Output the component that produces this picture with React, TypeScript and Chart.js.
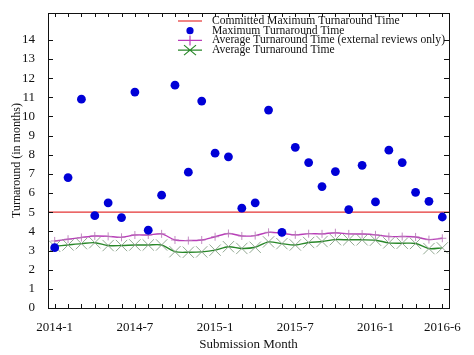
import React, { useEffect, useRef } from 'react';
import { Chart, registerables } from 'chart.js';

Chart.register(...registerables);

const months = [
  '2014-1', '2014-2', '2014-3', '2014-4', '2014-5', '2014-6', '2014-7', '2014-8', '2014-9', '2014-10', '2014-11', '2014-12',
  '2015-1', '2015-2', '2015-3', '2015-4', '2015-5', '2015-6', '2015-7', '2015-8', '2015-9', '2015-10', '2015-11', '2015-12',
  '2016-1', '2016-2', '2016-3', '2016-4', '2016-5', '2016-6',
];
const labeledMonths = ['2014-1', '2014-7', '2015-1', '2015-7', '2016-1', '2016-6'];
const committedMaximum = 5;
const maximumTurnaround = [
  3.15, 6.81, 10.9, 4.82, 5.49, 4.72, 11.27, 4.06, 5.89, 11.63, 7.09, 10.8, 8.08, 7.89, 5.21,
  5.49, 10.33, 3.95, 8.39, 7.59, 6.34, 7.12, 5.14, 7.45, 5.54, 8.24, 7.59, 6.04, 5.57, 4.75,
];
const avgExternal = [
  3.5, 3.59, 3.68, 3.76, 3.74, 3.69, 3.81, 3.81, 3.87, 3.55, 3.52, 3.55, 3.72, 3.89, 3.76,
  3.78, 3.95, 3.9, 3.82, 3.88, 3.87, 3.93, 3.87, 3.86, 3.82, 3.73, 3.73, 3.71, 3.57, 3.64,
];
const avgAll = [
  3.22, 3.29, 3.36, 3.41, 3.26, 3.26, 3.29, 3.29, 3.29, 2.94, 2.91, 2.93, 3.02, 3.2, 3.11,
  3.17, 3.45, 3.36, 3.29, 3.42, 3.47, 3.57, 3.56, 3.56, 3.54, 3.4, 3.38, 3.37, 3.1, 3.14,
];
const yTicks = [0, 1, 2, 3, 4, 5, 6, 7, 8, 9, 10, 11, 12, 13, 14];
const legendLabels = [
  'Committed Maximum Turnaround Time',
  'Maximum Turnaround Time',
  'Average Turnaround Time (external reviews only)',
  'Average Turnaround Time',
];

const X_MIN = -0.5;
const X_MAX = 29.5;
const Y_MAX = 15.4;
const SERIF = '"Liberation Serif", "Times New Roman", serif';
const RED = 'rgb(228,52,52)';
const BLUE = 'rgb(0,0,215)';
const MAGENTA = 'rgb(185,60,185)';
const MAGENTA_PT = 'rgba(185,120,185,0.85)';
const GREEN = 'rgb(40,135,40)';
const GREEN_PT = 'rgba(135,160,135,0.9)';

const framePlugin = {
  id: 'frameAndLegend',
  afterDraw(chart: any) {
    const { ctx, chartArea: a, scales } = chart;
    const xs = scales.x;
    const ys = scales.y;
    ctx.save();
    ctx.strokeStyle = '#111';
    ctx.lineWidth = 1;
    ctx.strokeRect(Math.round(a.left) + 0.5, Math.round(a.top) + 0.5, Math.round(a.right - a.left), Math.round(a.bottom - a.top));
    ctx.beginPath();
    months.forEach((_, i) => {
      const x = Math.round(xs.getPixelForValue(i)) + 0.5;
      ctx.moveTo(x, a.bottom);
      ctx.lineTo(x, a.bottom - 4);
      ctx.moveTo(x, a.top);
      ctx.lineTo(x, a.top + 4);
    });
    yTicks.forEach((v) => {
      const y = Math.round(ys.getPixelForValue(v)) + 0.5;
      ctx.moveTo(a.left, y);
      ctx.lineTo(a.left + 5, y);
      ctx.moveTo(a.right, y);
      ctx.lineTo(a.right - 5, y);
    });
    ctx.stroke();

    // legend
    const sx0 = 178;
    const sx1 = 202;
    const cx = 190;
    const tx = 212;
    const rows = [21, 30.7, 40.4, 50.1];
    ctx.font = `11.6px ${SERIF}`;
    ctx.fillStyle = '#111';
    ctx.textBaseline = 'middle';
    ctx.textAlign = 'left';
    legendLabels.forEach((t, i) => ctx.fillText(t, tx, rows[i]));

    ctx.lineWidth = 1.2;
    ctx.strokeStyle = RED;
    ctx.beginPath();
    ctx.moveTo(sx0, rows[0]);
    ctx.lineTo(sx1, rows[0]);
    ctx.stroke();

    ctx.fillStyle = BLUE;
    ctx.beginPath();
    ctx.arc(cx, rows[1], 3.6, 0, Math.PI * 2);
    ctx.fill();

    ctx.strokeStyle = MAGENTA;
    ctx.beginPath();
    ctx.moveTo(sx0, rows[2]);
    ctx.lineTo(sx1, rows[2]);
    ctx.moveTo(cx, rows[2] - 5);
    ctx.lineTo(cx, rows[2] + 5);
    ctx.stroke();

    ctx.strokeStyle = GREEN;
    ctx.beginPath();
    ctx.moveTo(sx0, rows[3]);
    ctx.lineTo(sx1, rows[3]);
    ctx.moveTo(cx - 6, rows[3] - 5);
    ctx.lineTo(cx + 6, rows[3] + 5);
    ctx.moveTo(cx - 6, rows[3] + 5);
    ctx.lineTo(cx + 6, rows[3] - 5);
    ctx.stroke();
    ctx.restore();
  },
};

export default function App() {
  const ref = useRef<HTMLCanvasElement | null>(null);
  useEffect(() => {
    if (!ref.current) return;
    const chart = new Chart(ref.current, {
      type: 'line',
      data: {
        datasets: [
          {
            label: legendLabels[1],
            data: maximumTurnaround.map((v, i) => ({ x: i, y: v })),
            showLine: false,
            pointRadius: 4.4,
            pointBackgroundColor: BLUE,
            pointBorderWidth: 0,
            borderColor: BLUE,
            order: 0,
          },
          {
            label: legendLabels[0],
            data: [{ x: X_MIN, y: committedMaximum }, { x: X_MAX, y: committedMaximum }],
            borderColor: RED,
            borderWidth: 1.2,
            pointRadius: 0,
            order: 3,
          },
          {
            label: legendLabels[2],
            data: avgExternal.map((v, i) => ({ x: i, y: v })),
            borderColor: MAGENTA,
            borderWidth: 1.4,
            tension: 0.3,
            pointStyle: 'cross',
            pointRadius: 4,
            pointBorderColor: MAGENTA_PT,
            pointBorderWidth: 1,
            order: 2,
          },
          {
            label: legendLabels[3],
            data: avgAll.map((v, i) => ({ x: i, y: v })),
            borderColor: GREEN,
            borderWidth: 1.4,
            tension: 0.3,
            pointStyle: 'crossRot',
            pointRadius: 8,
            pointBorderColor: GREEN_PT,
            pointBorderWidth: 1,
            order: 1,
          },
        ],
      },
      options: {
        responsive: false,
        animation: false,
        layout: { padding: { left: 0, top: 13, right: 25, bottom: 0 } },
        plugins: { legend: { display: false }, tooltip: { enabled: false } },
        scales: {
          x: {
            type: 'linear',
            min: X_MIN,
            max: X_MAX,
            grid: { display: false },
            border: { display: false },
            afterBuildTicks: (s: any) => {
              s.ticks = months.map((_, i) => ({ value: i }));
            },
            afterFit: (s: any) => {
              s.height = 47;
            },
            ticks: {
              autoSkip: false,
              maxRotation: 0,
              minRotation: 0,
              padding: 4,
              color: '#111',
              font: { family: SERIF, size: 13 },
              callback: (v: any) => (labeledMonths.includes(months[v]) ? months[v] : ''),
            },
            title: {
              display: true,
              text: 'Submission Month',
              color: '#111',
              font: { family: SERIF, size: 13 },
              padding: { top: 0, bottom: 3 },
            },
          },
          y: {
            type: 'linear',
            min: 0,
            max: Y_MAX,
            grid: { display: false },
            border: { display: false },
            afterBuildTicks: (s: any) => {
              s.ticks = yTicks.map((v) => ({ value: v }));
            },
            afterFit: (s: any) => {
              s.width = 48;
            },
            ticks: {
              padding: 5,
              color: '#111',
              font: { family: SERIF, size: 13 },
            },
            title: {
              display: true,
              text: 'Turnaround (in months)',
              color: '#111',
              font: { family: SERIF, size: 12 },
              padding: { top: 10, bottom: 0 },
            },
          },
        },
      },
      plugins: [framePlugin],
    } as any);
    return () => chart.destroy();
  }, []);
  return (
    <div style={{ position: 'absolute', left: 0, top: 0, width: 474, height: 355, background: '#fff' }}>
      <canvas ref={ref} width={474} height={355} />
    </div>
  );
}
